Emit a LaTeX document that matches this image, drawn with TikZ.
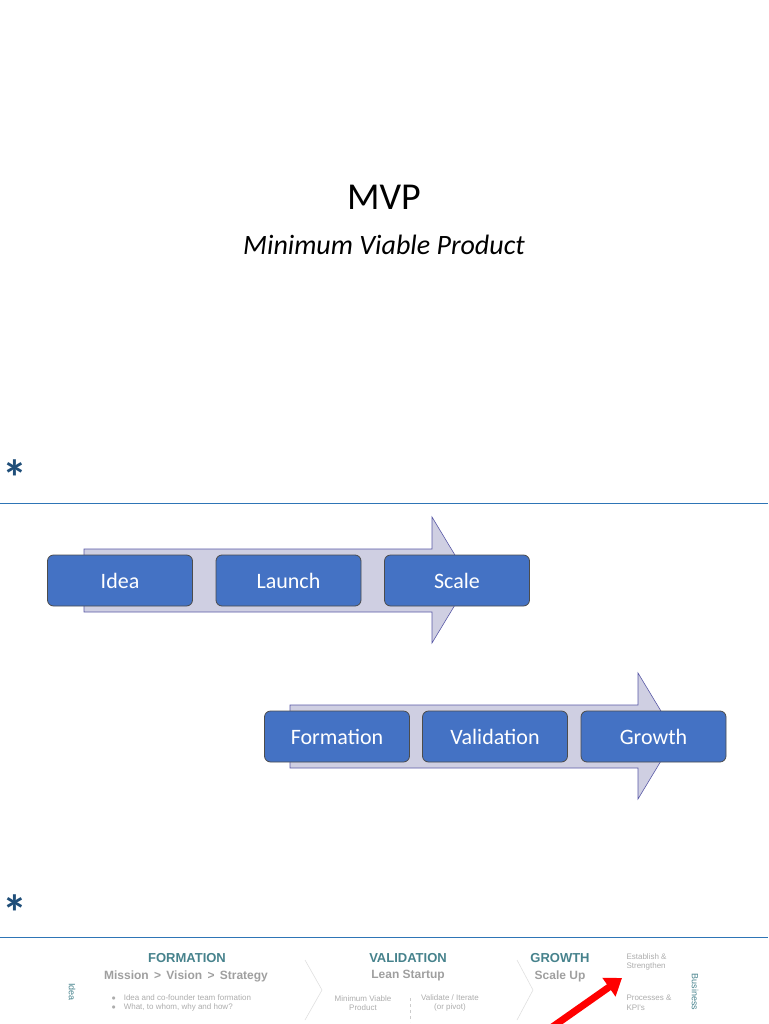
\documentclass[tikz,border=0pt]{standalone}
\usetikzlibrary{arrows.meta}
\usepackage{fontspec}
\setmainfont{Carlito}
\newfontfamily\ars{Liberation Sans}
\begin{document}
\begin{tikzpicture}[x=1pt,y=-1pt,
  bar/.style={fill=blue!25!gray!30, fill opacity=1, draw=gray!70!blue, line width=0.6pt},
  pill/.style={draw=gray!60!black, line width=0.8pt, fill={rgb,255:red,68;green,114;blue,196}, rounded corners=6pt, minimum width=145pt, minimum height=51pt, text=white, font=\fontsize{22}{24}\selectfont},
  rule/.style={draw={rgb,255:red,46;green,117;blue,182}, line width=1pt},
  star/.style={text={rgb,255:red,31;green,78;blue,121}, font=\fontsize{50}{50}\selectfont\bfseries},
  hd/.style={text={rgb,255:red,70;green,130;blue,140}, font=\ars\bfseries\fontsize{13}{14}\selectfont},
  sub/.style={text=gray!75, font=\ars\bfseries\fontsize{12}{13}\selectfont},
  sm/.style={text=gray!65, font=\ars\fontsize{8}{9.5}\selectfont, align=center},
  dot/.style={circle, fill={rgb,255:red,60;green,110;blue,120}, minimum size=30pt, inner sep=0pt}]
\useasboundingbox (0,0) rectangle (768,1024);
\node (t) at (384,197) {\fontsize{38}{40}\selectfont MVP};
\node (st) at (384,245) {\fontsize{28}{30}\selectfont\itshape Minimum Viable Product};
\node[star] (s1) at (15,478) {*};
\draw[rule] (0,503) -- (768,503);
% arrow 1
\draw[bar] (84,549) -- (432,549) -- (432,517) -- (470,580) -- (432,643) -- (432,612) -- (84,612) -- cycle;
\node[pill] (a1) at (120,580.5) {Idea};
\node[pill] (a2) at (288.5,580.5) {Launch};
\node[pill] (a3) at (457,580.5) {Scale};
% arrow 2
\draw[bar] (290,705) -- (638,705) -- (638,673) -- (676,736) -- (638,799) -- (638,768) -- (290,768) -- cycle;
\node[pill] (b1) at (337,736.5) {Formation};
\node[pill] (b2) at (495,736.5) {Validation};
\node[pill] (b3) at (653.5,736.5) {Growth};
\node[star] (s2) at (15,913) {*};
\draw[rule] (0,937) -- (768,937);
% bottom strip
\node[dot] (c1) at (112,1040) {};
\node[dot] (c2) at (210,1040) {};
\node[dot] (c3) at (310,1040) {};
\node[dot] (c4) at (410,1040) {};
\node[dot] (c5) at (515,1040) {};
\node[dot] (c6) at (625,1040) {};
\draw[gray!25, line width=0.6pt] (305,960) -- (322,990) -- (305,1020);
\draw[gray!25, line width=0.6pt] (517,960) -- (533,990) -- (517,1020);
\draw[gray!40, dashed, line width=0.4pt] (410,998) -- (410,1022);
\node[hd] (h1) at (187,958) {FORMATION};
\node[sub] (m1) at (186,976) {Mission \,>\, Vision \,>\, Strategy};
\node[sm, align=left, anchor=west] (l1) at (108,1003) {$\bullet$\quad Idea and co-founder team formation\\$\bullet$\quad What, to whom, why and how?};
\node[hd, font=\ars\fontsize{9}{10}\selectfont, rotate=-90] (id) at (72,992) {Idea};
\node[hd] (h2) at (408,958) {VALIDATION};
\node[sub] (m2) at (408,976) {Lean Startup};
\node[sm] (v1) at (363,1003) {Minimum Viable\\Product};
\node[sm] (v2) at (450,1003) {Validate / Iterate\\(or pivot)};
\node[hd] (h3) at (560,958) {GROWTH};
\node[sub] (m3) at (560,976) {Scale Up};
\node[sm, align=left, anchor=west] (e1) at (623,962) {Establish \&\\Strengthen};
\node[sm, align=left, anchor=west] (e2) at (623,1003) {Processes \&\\KPI's};
\node[hd, font=\ars\fontsize{9}{10}\selectfont, rotate=-90] (bz) at (695,992) {Business};
\coordinate (r0) at (548,1030);
\coordinate (r1) at (622,978);
\draw[red, line width=7pt, -{Triangle[length=16pt,width=22pt]}] (r0) -- (r1);
\end{tikzpicture}
\end{document}
